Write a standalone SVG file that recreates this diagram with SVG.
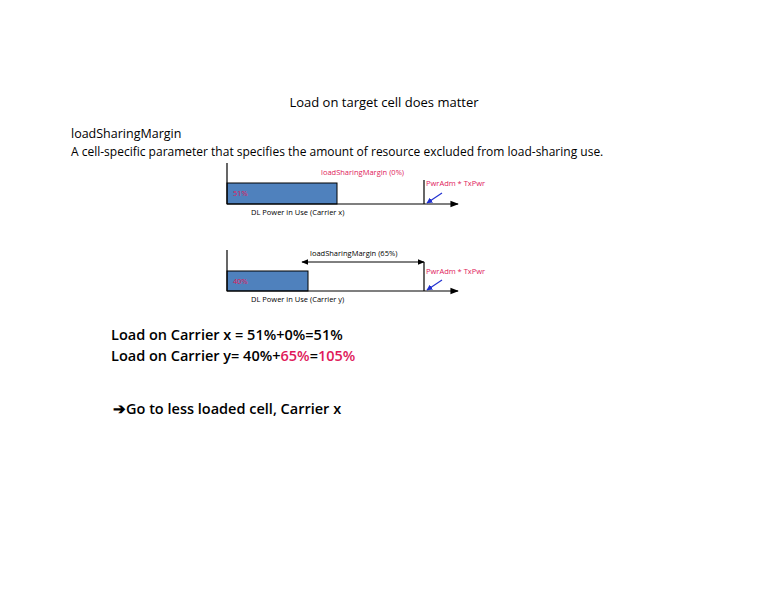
<svg xmlns="http://www.w3.org/2000/svg" width="768" height="594" viewBox="0 0 768 594">
<style>
text{font-family:"Open Sans","Liberation Sans",sans-serif;fill:#000}
.red{fill:#e0195a}
.ax{stroke:#000;stroke-width:1.2;fill:none}
.bar{fill:#4f81bd;stroke:#000;stroke-width:1}
.sm{font-size:7.5px}
.bl{stroke:#1f2fd0;stroke-width:1.2}
</style>
<defs>
<marker id="ah" viewBox="0 0 10 10" refX="9" refY="5" markerWidth="7" markerHeight="7" orient="auto-start-reverse"><path d="M0,1L10,5L0,9z" fill="#000"/></marker>
<marker id="bh" viewBox="0 0 10 10" refX="9" refY="5" markerWidth="5" markerHeight="5" orient="auto"><path d="M0,0L10,5L0,10z" fill="#1f2fd0"/></marker>
</defs>
<rect width="768" height="594" fill="#fff"/>
<text x="384" y="107" text-anchor="middle" font-size="13">Load on target cell does matter</text>
<text x="71" y="138" font-size="12.5">loadSharingMargin</text>
<text x="71" y="156" font-size="12">A cell-specific parameter that specifies the amount of resource excluded from load-sharing use.</text>
<g id="chart-x">
<rect class="bar" x="227" y="183" width="110" height="21"/>
<text x="233" y="196" class="sm red">51%</text>
<path class="ax" d="M227,163V204"/>
<path class="ax" d="M227,204H458" marker-end="url(#ah)"/>
<path class="ax" d="M424,180V204"/>
<text x="321" y="175" class="sm red">loadSharingMargin (0%)</text>
<text x="426" y="186" class="sm red">PwrAdm * TxPwr</text>
<line class="bl" x1="442" y1="193" x2="427" y2="203" marker-end="url(#bh)"/>
<text x="251" y="215" class="sm">DL Power in Use (Carrier x)</text>
</g>
<g id="chart-y">
<rect class="bar" x="227" y="271" width="81" height="20"/>
<text x="233" y="284" class="sm red">40%</text>
<path class="ax" d="M227,250V291"/>
<path class="ax" d="M227,291H458" marker-end="url(#ah)"/>
<path class="ax" d="M424,262V291"/>
<text x="310" y="256" class="sm">loadSharingMargin (65%)</text>
<text x="426" y="274" class="sm red">PwrAdm * TxPwr</text>
<line class="bl" x1="442" y1="280" x2="427" y2="290" marker-end="url(#bh)"/>
<text x="251" y="302" class="sm">DL Power in Use (Carrier y)</text>
</g>
<g id="connectors">
<line x1="302" y1="262" x2="424" y2="262" stroke="#000" stroke-width="1" marker-start="url(#ah)" marker-end="url(#ah)"/>
</g>
<text x="111" y="340" font-size="14.5" font-weight="600">Load on Carrier x = 51%+0%=51%</text>
<text x="111" y="361" font-size="14.5" font-weight="600">Load on Carrier y= 40%+<tspan class="red">65%</tspan>=<tspan class="red">105%</tspan></text>
<text x="113" y="414" font-size="14.5" font-weight="600">➔Go to less loaded cell, Carrier x</text>
</svg>
